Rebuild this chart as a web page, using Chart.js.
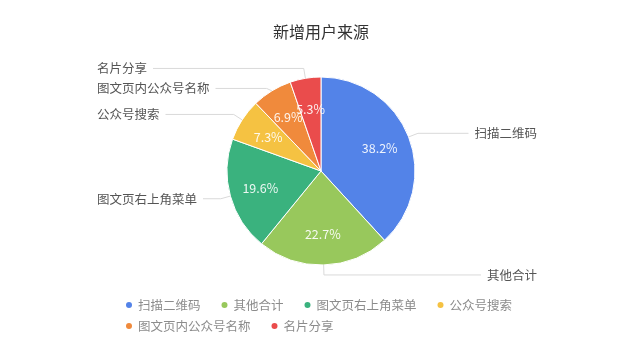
<!DOCTYPE html>
<html>
<head>
<meta charset="utf-8">
<script src="https://cdn.jsdelivr.net/npm/chart.js@4/dist/chart.umd.min.js"></script>
<style>
  body { margin: 0; background: #fff; }
  canvas { display: block; }
</style>
</head>
<body>
<canvas id="sourceChart" width="638" height="341"></canvas>
<script>
const categories = ["扫描二维码", "其他合计", "图文页右上角菜单", "公众号搜索", "图文页内公众号名称", "名片分享"];
const shares = [38.2, 22.7, 19.6, 7.3, 6.9, 5.3];
const sliceColors = ["#5383e8", "#98c85c", "#3ab27e", "#f5c242", "#f08a3c", "#ea4c4c"];

const FONT = "'Noto Sans CJK SC', 'Noto Sans', sans-serif";

// percentages inside, names outside with leader lines
const sliceLabels = {
    id: "sliceLabels",
    afterDatasetsDraw(chart, args, opts) {
        const ctx = chart.ctx;
        const arcs = chart.getDatasetMeta(0).data;
        const values = chart.data.datasets[0].data;
        const names = chart.data.labels;

        ctx.save();
        ctx.font = "12.5px " + FONT;
        ctx.textBaseline = "middle";

        const items = arcs.map((arc, i) => {
            const mid = (arc.startAngle + arc.endAngle) / 2;
            const cos = Math.cos(mid), sin = Math.sin(mid);
            const r = arc.outerRadius;

            // value text
            ctx.fillStyle = "rgba(255,255,255,0.9)";
            ctx.textAlign = "center";
            ctx.fillText(values[i].toFixed(1) + "%", arc.x + cos * r * 0.67, arc.y + sin * r * 0.67);

            return {
                name: names[i],
                right: cos >= 0,
                x0: arc.x + cos * r,
                y0: arc.y + sin * r,
                x1: arc.x + cos * (r + 10),
                y: arc.y + sin * (r + 10)
            };
        });

        // keep labels on each side apart
        [true, false].forEach(side => {
            const list = items.filter(it => it.right === side).sort((a, b) => a.y - b.y);
            for (let k = 1; k < list.length; k++) {
                if (list[k].y - list[k - 1].y < opts.gap) list[k].y = list[k - 1].y + opts.gap;
            }
        });

        items.forEach(it => {
            const w = ctx.measureText(it.name).width;
            const xEnd = it.right ? opts.rightEdge - w - 6 : opts.leftEdge + w + 6;
            ctx.strokeStyle = "#d9d9d9";
            ctx.lineWidth = 1;
            ctx.beginPath();
            ctx.moveTo(it.x0, it.y0);
            ctx.lineTo(it.x1, it.y);
            ctx.lineTo(xEnd, it.y);
            ctx.stroke();

            ctx.fillStyle = "#555";
            ctx.textAlign = it.right ? "right" : "left";
            ctx.fillText(it.name, it.right ? opts.rightEdge : opts.leftEdge, it.y);
        });
        ctx.restore();
    }
};

// two-row legend at the bottom, aligned left
const bottomLegend = {
    id: "bottomLegend",
    afterDraw(chart, args, opts) {
        const ctx = chart.ctx;
        const names = chart.data.labels;
        const colors = chart.data.datasets[0].backgroundColor;
        ctx.save();
        ctx.font = "12.5px " + FONT;
        ctx.textBaseline = "middle";
        ctx.textAlign = "left";
        let x = opts.left, y = opts.top;
        names.forEach((name, i) => {
            const w = ctx.measureText(name).width;
            if (x + 9 + w > opts.right) {
                x = opts.left;
                y += opts.rowHeight;
            }
            ctx.fillStyle = colors[i];
            ctx.beginPath();
            ctx.arc(x, y, 3, 0, Math.PI * 2);
            ctx.fill();
            ctx.fillStyle = "#8c8c8c";
            ctx.fillText(name, x + 9, y);
            x += 9 + w + 24;
        });
        ctx.restore();
    }
};

Chart.defaults.font.family = FONT;

new Chart(document.getElementById("sourceChart"), {
    type: "pie",
    data: {
        labels: categories,
        datasets: [{
            data: shares,
            backgroundColor: sliceColors,
            borderColor: "#fff",
            borderWidth: 1,
            radius: 94
        }]
    },
    options: {
        responsive: false,
        animation: false,
        layout: { padding: { left: 4, right: 0, top: 0, bottom: 69 } },
        plugins: {
            legend: { display: false },
            tooltip: { enabled: false },
            title: {
                display: true,
                text: "新增用户来源",
                color: "#333",
                font: { size: 16, weight: "normal" },
                padding: { top: 22, bottom: 28.8 }
            },
            sliceLabels: { leftEdge: 97, rightEdge: 537, gap: 20 },
            bottomLegend: { left: 129, right: 530, top: 305, rowHeight: 21 }
        }
    },
    plugins: [sliceLabels, bottomLegend]
});
</script>
</body>
</html>
